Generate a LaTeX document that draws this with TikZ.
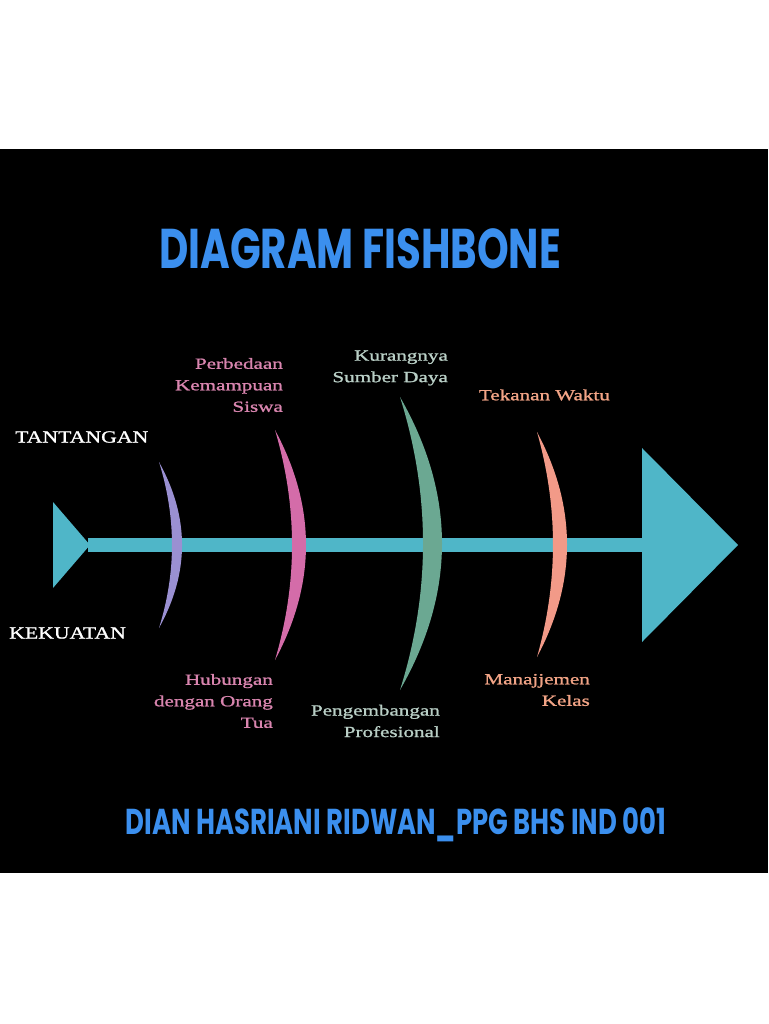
\documentclass[tikz,border=0pt]{standalone}
\usepackage{fontspec}
\setmainfont{Liberation Serif}
\newfontfamily\titlefont[FakeStretch=0.72]{Poppins}
\newfontfamily\labelfont[FakeStretch=1.36,FakeBold=1.2]{Liberation Serif}
\newfontfamily\sidefont[FakeStretch=1.28,FakeBold=1.2]{Liberation Serif}
\usepackage{xcolor}
\usetikzlibrary{positioning}
\definecolor{spinecyan}{HTML}{4FB6C8}
\definecolor{bonepurple}{HTML}{9A90D2}
\definecolor{bonepink}{HTML}{D46CA9}
\definecolor{bonegreen}{HTML}{6BA892}
\definecolor{bonesalmon}{HTML}{F29A88}
\definecolor{titleblue}{HTML}{3B8FEE}
\definecolor{labelgreen}{HTML}{B9CFC6}
\definecolor{labelpink}{HTML}{D985AF}
\definecolor{labelsalmon}{HTML}{F2A486}

\begin{document}
\begin{tikzpicture}[
    x=1pt, y=-1pt,
    title/.style={font=\titlefont\bfseries\fontsize{56}{56}\selectfont, color=titleblue, inner sep=0pt},
    side/.style={font=\sidefont\fontsize{17}{17}\selectfont, color=white, inner sep=0pt, anchor=west},
    cause/.style={font=\labelfont\fontsize{15.5}{21.5}\selectfont, align=right, inner sep=0pt, anchor=east},
]

% Canvas
\useasboundingbox (0,0) rectangle (768,1024);
\fill[white] (0,0) rectangle (768,1024);
\fill[black] (0,149) rectangle (768,873);

% Title
\node[title] (title) at (360,249) {DIAGRAM FISHBONE};

% Spine, tail and head
\fill[spinecyan] (88,538) rectangle (645,552);
\fill[spinecyan] (53,502) -- (90,545) -- (53,588) -- cycle;
\fill[spinecyan] (642,448) -- (738,545) -- (642,642) -- cycle;

% Bones (crescents)
\fill[bonepurple] (159,462) .. controls (189.7,517.3) and (189.7,572.7) .. (159,628)
    .. controls (176.3,572.7) and (176.3,517.3) .. (159,462) -- cycle;
\fill[bonepink] (275,430) .. controls (316.3,506.7) and (316.3,583.3) .. (275,660)
    .. controls (297.7,583.3) and (297.7,506.7) .. (275,430) -- cycle;
\fill[bonegreen] (400,397) .. controls (456,494.7) and (456,592.3) .. (400,690)
    .. controls (430.7,592.3) and (430.7,494.7) .. (400,397) -- cycle;
\fill[bonesalmon] (537,432) .. controls (577,507) and (577,582) .. (537,657)
    .. controls (558.3,582) and (558.3,507) .. (537,432) -- cycle;

% Side labels
\node[side] (tantangan) at (15,437) {TANTANGAN};
\node[side] (kekuatan) at (9,633) {KEKUATAN};

% Causes (top)
\node[cause, color=labelpink] (perbedaan) at (283,385) {Perbedaan\\Kemampuan\\Siswa};
\node[cause, color=labelgreen] (kurangnya) at (448,368) {Kurangnya\\Sumber Daya};
\node[cause, color=labelsalmon] (tekanan) at (610,395) {Tekanan Waktu};

% Causes (bottom)
\node[cause, color=labelpink] (hubungan) at (273,701) {Hubungan\\dengan Orang\\Tua};
\node[cause, color=labelgreen] (pengembangan) at (440,721) {Pengembangan\\Profesional};
\node[cause, color=labelsalmon] (manajemen) at (590,690) {Manajjemen\\Kelas};

% Footer
\node[title, font=\titlefont\bfseries\fontsize{36}{36}\selectfont] (author) at (396,825) {DIAN HASRIANI RIDWAN\_PPG BHS IND 001};

\end{tikzpicture}
\end{document}
